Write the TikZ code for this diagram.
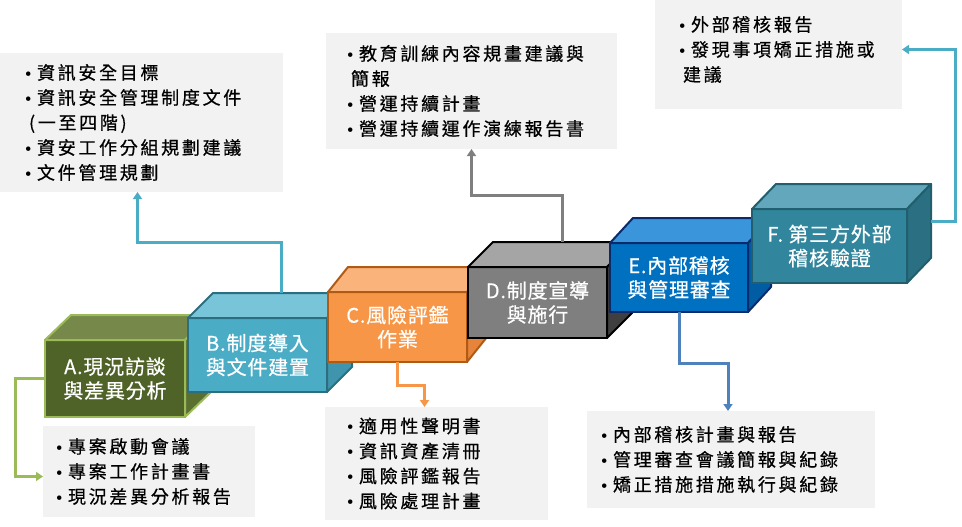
\documentclass[tikz,border=0pt]{standalone}
\usepackage{fontspec}
\usepackage{xcolor}
\usepackage{tikz}
\usetikzlibrary{arrows.meta, calc}
\newfontfamily\cjk[LetterSpace=15, FakeBold=0.6]{Noto Sans CJK TC}
\newfontfamily\cubefont[LetterSpace=4, FakeBold=0.6]{Noto Sans CJK TC}

\definecolor{olivefront}{HTML}{4F6228}
\definecolor{olivetop}{HTML}{76894A}
\definecolor{oliveside}{HTML}{5B7030}
\definecolor{olivelight}{HTML}{9BBB59}
\definecolor{aquafront}{HTML}{4BACC6}
\definecolor{aquatop}{HTML}{78C4D9}
\definecolor{aquaside}{HTML}{3E95AD}
\definecolor{aquadark}{HTML}{2B6E80}
\definecolor{orangefront}{HTML}{F79646}
\definecolor{orangetop}{HTML}{FAB37A}
\definecolor{orangeside}{HTML}{E5843A}
\definecolor{orangedark}{HTML}{B05A14}
\definecolor{greyfront}{HTML}{7F7F7F}
\definecolor{greytop}{HTML}{A5A5A5}
\definecolor{greyside}{HTML}{3F3F3F}
\definecolor{bluefront}{HTML}{0070C0}
\definecolor{bluetop}{HTML}{3A95DA}
\definecolor{blueside}{HTML}{005CA3}
\definecolor{bluedark}{HTML}{0A2A6E}
\definecolor{tealfront}{HTML}{31859C}
\definecolor{tealtop}{HTML}{62A7BC}
\definecolor{tealside}{HTML}{2A6F82}
\definecolor{tealdark}{HTML}{215F6E}
\definecolor{listgrey}{HTML}{F2F2F2}
\definecolor{linkblue}{HTML}{4F81BD}

% bullet of the output lists
\newcommand{\itm}{\makebox[16pt][l]{\normalfont\fontsize{20}{20}\selectfont\textbullet}}
% top and right faces of a step: node, top, side, border, depth
\newcommand{\cubesides}[5]{%
  \filldraw[fill=#2, draw=#4, line width=2pt, line join=round] (#1.north west) -- ++(#5,-25) -- ([shift={(#5,-25)}]#1.north east) -- (#1.north east) -- cycle;
  \filldraw[fill=#3, draw=#4, line width=2pt, line join=round] (#1.north east) -- ++(#5,-25) -- ([shift={(#5,-25)}]#1.south east) -- (#1.south east) -- cycle;
}

\begin{document}
\begin{tikzpicture}[
    x=1pt, y=-1pt,
    cube/.style={rectangle, anchor=north west, inner sep=0pt, outer sep=0pt, line width=2pt, text=white, align=center, font=\cubefont\fontsize{20}{24}\selectfont},
    listbox/.style={rectangle, anchor=north west, fill=listgrey, inner ysep=0pt, outer sep=0pt, align=left, font=\cjk\fontsize{18}{25}\selectfont},
    link/.style={line width=3pt, -{Triangle[length=7pt,width=9pt]}}
  ]
    \useasboundingbox (0,0) rectangle (962,527);

    % output lists
    \node[listbox, inner xsep=9pt, text width=194pt, minimum height=91pt] (listA) at (43,426) {\itm 專案啟動會議\\ \itm 專案工作計畫書\\ \itm 現況差異分析報告};
    \node[listbox, inner xsep=21pt, text width=241pt, minimum height=139pt] (listB) at (0,53) {\itm 資訊安全目標\\ \itm 資訊安全管理制度文件\\ \hspace*{8pt}(一至四階)\\ \itm 資安工作分組規劃建議\\ \itm 文件管理規劃};
    \node[listbox, inner xsep=18pt, text width=187pt, minimum height=113pt] (listC) at (325,407) {\itm 適用性聲明書\\ \itm 資訊資產清冊\\ \itm 風險評鑑報告\\ \itm 風險處理計畫};
    \node[listbox, inner xsep=17pt, text width=257pt, minimum height=116pt] (listD) at (326,33) {\itm 教育訓練內容規畫建議與\\ \hspace*{8pt}簡報\\ \itm 營運持續計畫\\ \itm 營運持續運作演練報告書};
    \node[listbox, inner xsep=10pt, text width=268pt, minimum height=97pt] (listE) at (587,411) {\itm 內部稽核計畫與報告\\ \itm 管理審查會議簡報與紀錄\\ \itm 矯正措施措施執行與紀錄};
    \node[listbox, inner xsep=20pt, text width=207pt, minimum height=119pt] (listF) at (655,-10) {\itm 外部稽核報告\\ \itm 發現事項矯正措施或\\ \hspace*{8pt}建議};

    % steps, back to front
    \node[cube, fill=olivefront, draw=olivelight, minimum width=140pt, minimum height=77pt] (cubeA) at (45,340) {A.現況訪談\\與差異分析};
    \cubesides{cubeA}{olivetop}{oliveside}{olivelight}{26}
    \node[cube, fill=aquafront, draw=aquadark, minimum width=139pt, minimum height=74pt] (cubeB) at (188,318) {B.制度導入\\與文件建置};
    \cubesides{cubeB}{aquatop}{aquaside}{aquadark}{25}
    \node[cube, fill=orangefront, draw=orangedark, minimum width=139pt, minimum height=70pt] (cubeC) at (328,292) {C.風險評鑑\\作業};
    \cubesides{cubeC}{orangetop}{orangeside}{orangedark}{20}
    \node[cube, fill=greyfront, draw=black, minimum width=139pt, minimum height=71pt] (cubeD) at (468,267) {D.制度宣導\\與施行};
    \cubesides{cubeD}{greytop}{greyside}{black}{25}
    \node[cube, fill=bluefront, draw=bluedark, minimum width=138pt, minimum height=69pt] (cubeE) at (610,243) {E.內部稽核\\與管理審查};
    \cubesides{cubeE}{bluetop}{blueside}{bluedark}{23}
    \node[cube, fill=tealfront, draw=tealdark, minimum width=155pt, minimum height=74pt] (cubeF) at (752,209) {F. 第三方外部\\稽核驗證};
    \cubesides{cubeF}{tealtop}{tealside}{tealdark}{24}

    % links to the outputs
    \draw[link, olivelight] (cubeA.west) -- ++(-30,0) |- ([yshift=-5pt]listA.west);
    \draw[link, aquafront] ([shift={(24,-25)}]cubeB.north) -- ++(0,-51) -| ([xshift=-4pt]listB.south);
    \draw[link, orangefront] (cubeC.south) -- ++(0,23) -| ([xshift=-12pt]listC.north);
    \draw[link, greyfront] ([shift={(25,-25)}]cubeD.north) -- ++(0,-47) -| (listD.south);
    \draw[link, linkblue] (cubeE.south) -- ++(0,51) -| ([xshift=-3pt]listE.north);
    \draw[link, aquafront] ([shift={(24,-25)}]cubeF.east) -- ++(24,0) |- (listF.east);
\end{tikzpicture}
\end{document}
